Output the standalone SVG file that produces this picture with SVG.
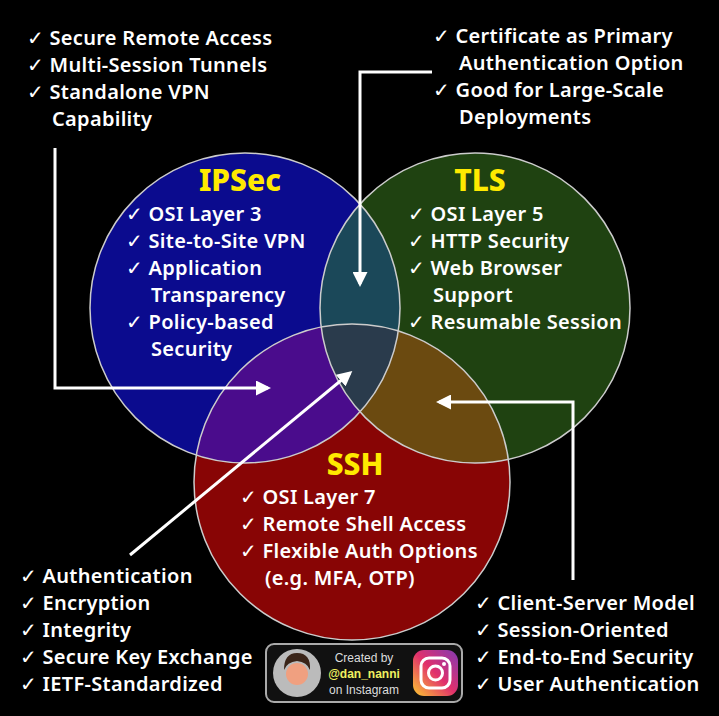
<svg xmlns="http://www.w3.org/2000/svg" width="719" height="716" viewBox="0 0 719 716">
<defs>
<style>
.t{font-family:"Noto Sans","DejaVu Sans",sans-serif;font-size:20px;font-weight:600;fill:#fff;letter-spacing:0.3px}
.h{font-family:"Noto Sans","DejaVu Sans",sans-serif;font-size:30px;font-weight:800;fill:#ffea00}
.c{fill:none;stroke:#ccc;stroke-width:1.5}
.a{fill:none;stroke:#fff;stroke-width:3}
.b{font-family:"Liberation Sans",sans-serif;font-size:12px;fill:#ddd}
</style>
<marker id="ar" viewBox="0 0 10 10" refX="8" refY="5" markerWidth="5" markerHeight="5" orient="auto"><path d="M0,0L10,5L0,10z" fill="#fff"/></marker>
<clipPath id="cI"><circle cx="245" cy="308" r="155"/></clipPath>
<clipPath id="cT"><circle cx="475" cy="308" r="155"/></clipPath>
<linearGradient id="ig" x1="0" y1="1" x2="1" y2="0"><stop offset="0" stop-color="#fdc830"/><stop offset="0.5" stop-color="#e1306c"/><stop offset="1" stop-color="#833ab4"/></linearGradient>
</defs>
<rect width="719" height="716" fill="#000"/>
<g id="ipsec"><circle cx="245" cy="308" r="155" fill="#0b0b8e"/></g>
<g id="tls"><circle cx="475" cy="308" r="155" fill="#1f4211"/></g>
<g id="ssh"><circle cx="352" cy="482" r="158" fill="#880505"/></g>
<g clip-path="url(#cI)"><circle cx="475" cy="308" r="155" fill="#1b4859"/><circle cx="352" cy="482" r="158" fill="#4a0c8c"/></g>
<g clip-path="url(#cT)"><circle cx="352" cy="482" r="158" fill="#6b4a10"/></g>
<g clip-path="url(#cI)"><g clip-path="url(#cT)"><circle cx="352" cy="482" r="158" fill="#2a3b4c"/></g></g>
<circle class="c" cx="245" cy="308" r="155"/><circle class="c" cx="475" cy="308" r="155"/><circle class="c" cx="352" cy="482" r="158"/>
<g id="connectors">
<path class="a" d="M55,148V388H268" marker-end="url(#ar)"/>
<path class="a" d="M432,72H360V284" marker-end="url(#ar)"/>
<path class="a" d="M573,580V402H439" marker-end="url(#ar)"/>
<path class="a" d="M130,555L350,373" marker-end="url(#ar)"/>
</g>
<text class="h" x="240" y="191" text-anchor="middle">IPSec</text>
<text class="h" x="480" y="191" text-anchor="middle">TLS</text>
<text class="h" x="355" y="475" text-anchor="middle">SSH</text>
<g class="t">
<text x="27" y="45">✓ Secure Remote Access</text>
<text x="27" y="72">✓ Multi-Session  Tunnels</text>
<text x="27" y="99">✓ Standalone VPN</text>
<text x="52" y="126">Capability</text>
<text x="433" y="43">✓ Certificate as Primary</text>
<text x="459" y="70">Authentication Option</text>
<text x="433" y="97">✓ Good for Large-Scale</text>
<text x="459" y="124">Deployments</text>
<text x="126" y="221">✓ OSI Layer 3</text>
<text x="126" y="248">✓ Site-to-Site VPN</text>
<text x="126" y="275">✓ Application</text>
<text x="151" y="302">Transparency</text>
<text x="126" y="329">✓ Policy-based</text>
<text x="151" y="356">Security</text>
<text x="408" y="221">✓ OSI Layer 5</text>
<text x="408" y="248">✓ HTTP Security</text>
<text x="408" y="275">✓ Web Browser</text>
<text x="433" y="302">Support</text>
<text x="408" y="329">✓ Resumable Session</text>
<text x="240" y="504">✓ OSI Layer 7</text>
<text x="240" y="531">✓ Remote Shell Access</text>
<text x="240" y="558">✓ Flexible Auth Options</text>
<text x="265" y="585">(e.g. MFA, OTP)</text>
<text x="20" y="583">✓ Authentication</text>
<text x="20" y="610">✓ Encryption</text>
<text x="20" y="637">✓ Integrity</text>
<text x="20" y="664">✓ Secure Key Exchange</text>
<text x="20" y="691">✓ IETF-Standardized</text>
<text x="475" y="610">✓ Client-Server Model</text>
<text x="475" y="637">✓ Session-Oriented</text>
<text x="475" y="664">✓ End-to-End Security</text>
<text x="475" y="691">✓ User Authentication</text>
</g>
<g id="badge">
<rect x="266" y="644" width="196" height="58" rx="8" fill="#111" stroke="#aaa" stroke-width="2"/>
<circle cx="297" cy="673" r="24" fill="#bbb"/>
<circle cx="297" cy="674" r="11" fill="#f0a080"/>
<path d="M284,670q0,-17 13,-17q14,0 13,17q-3,-8 -13,-9q-10,1 -13,9z" fill="#3a2418"/>
<text class="b" x="364" y="662" text-anchor="middle">Created by</text>
<text class="b" x="364" y="678" text-anchor="middle" font-weight="700" style="fill:#f0f060">@dan_nanni</text>
<text class="b" x="364" y="694" text-anchor="middle">on Instagram</text>
<rect x="413" y="650" width="45" height="46" rx="11" fill="url(#ig)"/>
<rect x="421" y="658" width="29" height="30" rx="8" fill="none" stroke="#fff" stroke-width="3"/>
<circle cx="435.5" cy="673" r="7" fill="none" stroke="#fff" stroke-width="3"/>
<circle cx="444" cy="664" r="2" fill="#fff"/>
</g>
</svg>
